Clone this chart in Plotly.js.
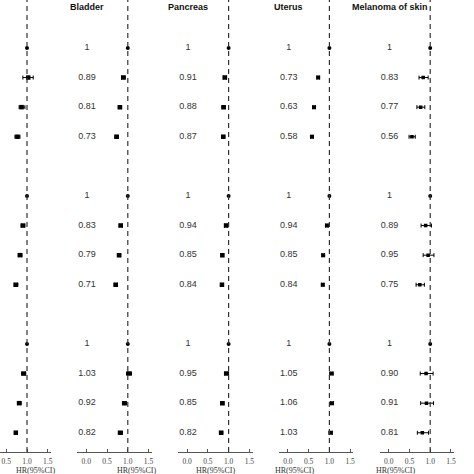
<!DOCTYPE html>
<html>
<head>
<meta charset="utf-8">
<script src="https://cdn.plot.ly/plotly-3.0.1.min.js"></script>
<style>
  html, body { margin: 0; padding: 0; background: #fff; }
  #chart { width: 474px; height: 474px; }
</style>
</head>
<body>
<div id="chart"></div>
<script>
// rows: three groups of four, a blank row between groups
const rowIndex = [0, 1, 2, 3, 5, 6, 7, 8, 10, 11, 12, 13];

const panelNames = ['', 'Bladder', 'Pancreas', 'Uterus', 'Melanoma of skin'];

// left panel (cut off in the picture, text column not visible)
const hrLeft   = [1, 1.03, 0.87, 0.77, 1, 0.90, 0.83, 0.73, 1, 0.92, 0.81, 0.73];
const lowLeft  = [1, 0.90, 0.81, 0.71, 1, 0.86, 0.79, 0.69, 1, 0.87, 0.77, 0.70];
const highLeft = [1, 1.15, 0.95, 0.83, 1, 0.95, 0.88, 0.78, 1, 0.97, 0.86, 0.77];

const hrBladder   = [1, 0.89, 0.81, 0.73, 1, 0.83, 0.79, 0.71, 1, 1.03, 0.92, 0.82];
const lowBladder  = [1, 0.85, 0.77, 0.69, 1, 0.79, 0.75, 0.67, 1, 0.97, 0.87, 0.77];
const highBladder = [1, 0.94, 0.85, 0.77, 1, 0.87, 0.83, 0.75, 1, 1.09, 0.97, 0.87];

const hrPancreas   = [1, 0.91, 0.88, 0.87, 1, 0.94, 0.85, 0.84, 1, 0.95, 0.85, 0.82];
const lowPancreas  = [1, 0.87, 0.84, 0.83, 1, 0.90, 0.82, 0.81, 1, 0.90, 0.81, 0.78];
const highPancreas = [1, 0.95, 0.92, 0.91, 1, 0.98, 0.88, 0.87, 1, 1.00, 0.89, 0.86];

const hrUterus   = [1, 0.73, 0.63, 0.58, 1, 0.94, 0.85, 0.84, 1, 1.05, 1.06, 1.03];
const lowUterus  = [1, 0.70, 0.60, 0.55, 1, 0.91, 0.82, 0.81, 1, 1.01, 1.02, 0.99];
const highUterus = [1, 0.76, 0.66, 0.61, 1, 0.97, 0.88, 0.87, 1, 1.09, 1.10, 1.07];

const hrMelanoma   = [1, 0.83, 0.77, 0.56, 1, 0.89, 0.95, 0.75, 1, 0.90, 0.91, 0.81];
const lowMelanoma  = [1, 0.73, 0.68, 0.49, 1, 0.78, 0.83, 0.66, 1, 0.76, 0.77, 0.69];
const highMelanoma = [1, 0.95, 0.87, 0.64, 1, 1.03, 1.09, 0.86, 1, 1.07, 1.08, 0.96];

const tickVals = [0, 0.5, 1, 1.5];
const tickText = ['0.0', '0.5', '1.0', '1.5'];
const refValue = 1;

const panels = [
  { hr: hrLeft, low: lowLeft, high: highLeft, showText: false, size: 4.5 },
  { hr: hrBladder, low: lowBladder, high: highBladder, showText: true, size: 4.5 },
  { hr: hrPancreas, low: lowPancreas, high: highPancreas, showText: true, size: 4.5 },
  { hr: hrUterus, low: lowUterus, high: highUterus, showText: true, size: 4 },
  { hr: hrMelanoma, low: lowMelanoma, high: highMelanoma, showText: true, size: 3.5 }
];

// geometry (pixels)
const W = 474, H = 474;
const firstZero = -14.5, pitch = 100.8, pxPerUnit = 41.5;
const axisLeft = -9, axisRight = 65.5;
const labelX = 0.02;

const fmt = v => v === 1 ? '1' : v.toFixed(2);

const traces = [];
const shapes = [];
const annotations = [];
const layout = {
  width: W, height: H,
  margin: { l: 0, r: 0, t: 0, b: 22 },
  paper_bgcolor: '#fff', plot_bgcolor: '#fff',
  showlegend: false,
  yaxis: { range: [13.65, -1.62], visible: false, fixedrange: true }
};

panels.forEach((p, k) => {
  const zero = firstZero + pitch * k;
  const left = Math.max(0, zero + axisLeft);
  const right = zero + axisRight;
  const ax = k === 0 ? 'x' : 'x' + (k + 1);
  layout[k === 0 ? 'xaxis' : 'xaxis' + (k + 1)] = {
    domain: [left / W, right / W],
    range: [(left - zero) / pxPerUnit, (right - zero) / pxPerUnit],
    anchor: 'y',
    tickvals: tickVals, ticktext: tickText,
    ticks: 'inside', ticklen: 3, tickcolor: '#555', tickwidth: 1,
    ticklabelstandoff: 2,
    showline: true, linecolor: '#555', linewidth: 1,
    showgrid: false, zeroline: false, fixedrange: true,
    tickfont: { family: 'Liberation Serif, Times New Roman, serif', size: 7.5, color: '#444' }
  };

  const isRef = p.hr.map((v, i) => v === 1 && p.low[i] === 1 && p.high[i] === 1);
  const pick = (arr, want) => arr.filter((_, i) => isRef[i] === want);

  // reference rows
  traces.push({
    type: 'scatter', mode: 'markers', xaxis: ax, yaxis: 'y',
    x: pick(p.hr, true), y: pick(rowIndex, true),
    marker: { symbol: 'circle', size: 4, color: '#000' },
    hoverinfo: 'skip'
  });

  // estimates with CI
  const hrE = pick(p.hr, false), lowE = pick(p.low, false), highE = pick(p.high, false);
  traces.push({
    type: 'scatter', mode: 'markers', xaxis: ax, yaxis: 'y',
    x: hrE, y: pick(rowIndex, false),
    marker: { symbol: 'square', size: p.size, color: '#000' },
    error_x: {
      type: 'data', symmetric: false,
      array: highE.map((h, i) => h - hrE[i]),
      arrayminus: lowE.map((l, i) => hrE[i] - l),
      color: '#000', thickness: 1, width: 2
    },
    hoverinfo: 'skip'
  });

  if (p.showText) {
    traces.push({
      type: 'scatter', mode: 'text', xaxis: ax, yaxis: 'y',
      x: rowIndex.map(() => labelX), y: rowIndex,
      text: p.hr.map(fmt),
      textposition: 'middle center',
      textfont: { family: 'Liberation Sans, Arial, sans-serif', size: 9, color: '#333' },
      cliponaxis: false,
      hoverinfo: 'skip'
    });
    annotations.push({
      xref: ax, x: labelX, yref: 'paper', y: 1, yanchor: 'top', showarrow: false,
      text: '<b>' + panelNames[k] + '</b>',
      font: { family: 'Liberation Sans, Arial, sans-serif', size: 9, color: '#111' }
    });
  }

  // dashed reference line at HR = 1
  shapes.push({
    type: 'line', xref: ax, x0: refValue, x1: refValue, yref: 'paper', y0: 0, y1: 1,
    line: { color: '#333', width: 1.2, dash: '5px,4px' }
  });

  // axis title, centred on the full axis
  annotations.push({
    xref: 'paper', x: (zero + (axisLeft + axisRight) / 2) / W,
    yref: 'paper', y: 0, yanchor: 'top', yshift: -12, showarrow: false,
    text: 'HR(95%CI)',
    font: { family: 'Liberation Serif, Times New Roman, serif', size: 8, color: '#333' }
  });
});

layout.shapes = shapes;
layout.annotations = annotations;

Plotly.newPlot('chart', traces, layout, { displayModeBar: false, staticPlot: true });
</script>
</body>
</html>
